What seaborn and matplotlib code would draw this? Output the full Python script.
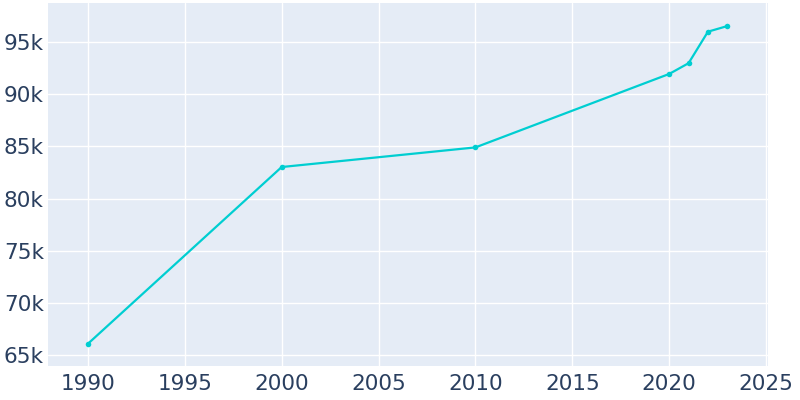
import matplotlib
matplotlib.use("Agg")
import matplotlib.pyplot as plt
import seaborn as sns
import pandas as pd
from matplotlib.ticker import FuncFormatter, MultipleLocator

years = [1990, 2000, 2010, 2020, 2021, 2022, 2023]
population = [66080, 83020, 84900, 91940, 92970, 95990, 96530]

df = pd.DataFrame({"year": years, "population": population})

sns.set_theme(style="darkgrid", rc={
    "axes.facecolor": "#E5ECF6",
    "grid.color": "white",
    "grid.linewidth": 1.0,
    "axes.edgecolor": "#E5ECF6",
})
plt.rcParams['font.family'] = ['DejaVu Sans']

fig = plt.figure(figsize=(8, 4), dpi=100)
ax = fig.add_axes([0.06, 0.085, 0.90, 0.9075])
sns.lineplot(data=df, x="year", y="population", ax=ax, color="#00CED1",
             linewidth=1.6, marker="o", markersize=4, markeredgewidth=0)

for s in ax.spines.values():
    s.set_visible(False)
ax.set_xlim(1987.94, 2025.1)
ax.set_ylim(63950, 98740)
ax.xaxis.set_major_locator(MultipleLocator(5))
ax.yaxis.set_major_locator(MultipleLocator(5000))
ax.yaxis.set_major_formatter(FuncFormatter(lambda v, p: f"{int(v/1000)}k"))
ax.set_xlabel("")
ax.set_ylabel("")
ax.tick_params(axis="both", labelsize=15.5, colors="#2a3f5f", length=0, pad=6)
ax.tick_params(axis="y", pad=3)

fig.savefig("out.png", dpi=100)
